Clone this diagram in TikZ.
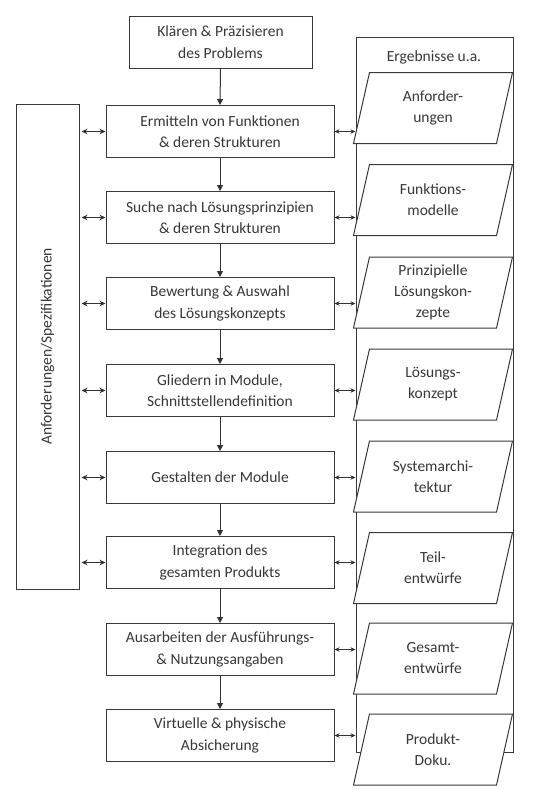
\documentclass[tikz,border=0pt]{standalone}
\usepackage{fontspec}
\setmainfont{Carlito}
\usetikzlibrary{arrows.meta,calc}
\begin{document}
\begin{tikzpicture}[x=1pt,y=-1pt,line width=1pt,
  every node/.style={text=black!78},
  box/.style={draw=black!78, minimum width=228pt, minimum height=52pt, align=center, inner sep=2pt, font=\fontsize{15.5}{21.5}\selectfont},
  ptext/.style={minimum width=142pt, minimum height=70pt, align=center, inner sep=0pt, font=\fontsize{15.5}{21}\selectfont},
  flow/.style={draw=black!80, -{Triangle[length=6pt,width=6pt]}},
  dbl/.style={draw=black!80, {Stealth[length=6pt,width=5.5pt]}-{Stealth[length=6pt,width=5.5pt]}},
  sdbl/.style={draw=black!80, {Stealth[length=5pt,width=4.5pt]}-{Stealth[length=5pt,width=4.5pt]}}]
\useasboundingbox (0,0) rectangle (540,790);
\fill[white] (0,0) rectangle (540,790);
% container of results
\node[draw=black!78, minimum width=157pt, minimum height=715pt, inner sep=0pt] (cont) at (434.5,394.5) {};
\node[font=\fontsize{15.5}{21}\selectfont] (erg) at (434,57) {Ergebnisse u.a.};
% left tall box
\node[draw=black!78, minimum width=63pt, minimum height=485pt, inner sep=0pt] (lb) at (47.5,346.5) {};
\node[rotate=90, font=\fontsize{15.5}{21}\selectfont] (lbt) at (lb.center) {Anforderungen/Spezifikationen};
% main boxes
\node[box, minimum width=183pt] (b0) at (220.5,42) {Klären \& Präzisieren\\des Problems};
\node[box] (b1) at (220,131.5) {Ermitteln von Funktionen\\\& deren Strukturen};
\node[box] (b2) at (220,217.5) {Suche nach Lösungsprinzipien\\\& deren Strukturen};
\node[box] (b3) at (220,303.5) {Bewertung \& Auswahl\\des Lösungskonzepts};
\node[box] (b4) at (220,390.5) {Gliedern in Module,\\Schnittstellendefinition};
\node[box] (b5) at (220,477.5) {Gestalten der Module};
\node[box] (b6) at (220,562.5) {Integration des\\gesamten Produkts};
\node[box] (b7) at (220,649.5) {Ausarbeiten der Ausführungs-\\\& Nutzungsangaben};
\node[box] (b8) at (220,735.5) {Virtuelle \& physische\\Absicherung};
% result parallelograms
\foreach \n/\y/\t in {1/108/{Anforder-\\ungen},2/200/{Funktions-\\modelle},3/292.5/{Prinzipielle\\Lösungskon-\\zepte},4/384.5/{Lösungs-\\konzept},5/476.5/{Systemarchi-\\tektur},6/568/{Teil-\\entwürfe},7/658.5/{Gesamt-\\entwürfe},8/749.5/{Produkt-\\Doku.}}{
  \node[ptext] (p\n) at (433,\y) {\t};
  \draw[draw=black!78, fill=white] ([xshift=-8pt]p\n.south west) -- ([xshift=8pt]p\n.north west) -- ([xshift=8pt]p\n.north east) -- ([xshift=-8pt]p\n.south east) -- cycle;
  \node[ptext] at (p\n.center) {\t};
}
% flow arrows
\foreach \a/\b in {b0/b1,b1/b2,b2/b3,b3/b4,b4/b5,b5/b6,b6/b7,b7/b8}{
  \draw[flow] (\a.south) -- (\b.north);
}
% left double arrows
\foreach \k in {1,...,6}{
  \draw[dbl, shorten <=2pt] (lb.east |- b\k.west) -- (b\k.west);
}
% right double arrows
\foreach \k in {1,...,8}{
  \draw[sdbl] (b\k.east) -- (cont.west |- b\k.east);
}
\end{tikzpicture}
\end{document}
